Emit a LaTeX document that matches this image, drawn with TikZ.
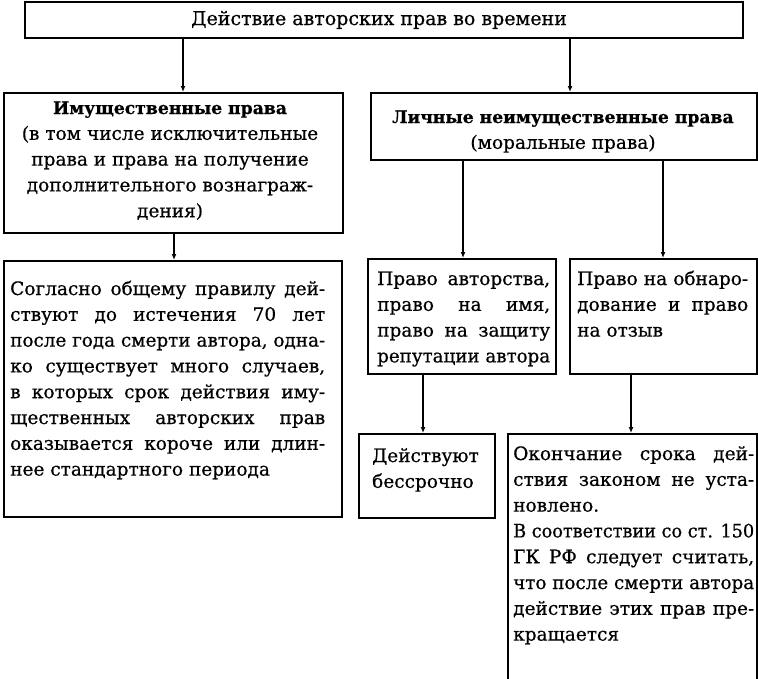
\documentclass[tikz,border=0pt]{standalone}
\usepackage{fontspec}
\usepackage{graphicx}
\setmainfont{DejaVu Serif}[RawFeature={embolden=0.6}]
\usetikzlibrary{arrows.meta}
\newsavebox\linebx
\newcommand{\jl}[1]{\sbox\linebx{#1}%
  \ifdim\wd\linebx>\linewidth
    \resizebox{\linewidth}{\height}{\usebox\linebx}%
  \else
    \makebox[\linewidth][s]{#1}%
  \fi\par}
\newcommand{\nl}[1]{\makebox[\linewidth][l]{#1}\par}
\newcommand{\cl}[1]{\makebox[\linewidth][c]{#1}\par}
\tikzset{
  box/.style={draw=black, line width=1.6pt, fill=white, anchor=north west, inner sep=0pt},
  txt/.style={inner sep=0pt, anchor=base west},
  ctxt/.style={inner sep=0pt, anchor=base},
  arr/.style={line width=1.3pt, -{Latex[length=6pt,width=5pt]}},
  body/.style={font=\fontsize{18.5}{25.8}\selectfont},
  bld/.style={font=\fontsize{17.2}{25.8}\selectfont\bfseries}
}
\begin{document}
\begin{tikzpicture}[x=1pt,y=-1pt,body]
\useasboundingbox[fill=white] (0,0) rectangle (758,678);

% boxes
\node[box, minimum width=718pt, minimum height=36pt] (T) at (24,1) {};
\node[box, minimum width=339pt, minimum height=140pt] (L1) at (3,92) {};
\node[box, minimum width=386pt, minimum height=67pt] (R1) at (370,92) {};
\node[box, minimum width=338pt, minimum height=256pt] (L2) at (3,260) {};
\node[box, minimum width=188pt, minimum height=115pt] (A) at (367,258) {};
\node[box, minimum width=187pt, minimum height=115pt] (B) at (569,258) {};
\node[box, minimum width=136pt, minimum height=84pt] (C) at (358,433) {};
\node[box, minimum width=249pt, minimum height=260pt] (D) at (507,433) {};

% texts
\node[ctxt, font=\fontsize{19}{25.8}\selectfont] (Tt) at (379,25) {Действие авторских прав во времени};
\node[ctxt, bld] (L1h) at (170,114) {Имущественные права};
\node[ctxt] (L1t) at (170,139.8) {\parbox[t]{330pt}{%
  \cl{(в том числе исключительные}
  \cl{права и права на получение}
  \cl{дополнительного вознаграж-}
  \cl{дения)}}};
\node[ctxt, bld] (R1h) at (563,123) {Личные неимущественные права};
\node[ctxt] (R1t) at (563,148.8) {(моральные права)};
\node[txt] (L2t) at (10,295) {\parbox[t]{315pt}{%
  \jl{Согласно общему правилу дей-}
  \jl{ствуют до истечения 70 лет}
  \jl{после года смерти автора, одна-}
  \jl{ко существует много случаев,}
  \jl{в которых срок действия иму-}
  \jl{щественных авторских прав}
  \jl{оказывается короче или длин-}
  \nl{нее стандартного периода}}};
\node[txt] (At) at (377,285) {\parbox[t]{173pt}{%
  \jl{Право авторства,}
  \jl{право на имя,}
  \jl{право на защиту}
  \jl{репутации автора}}};
\node[txt] (Bt) at (577,285) {\parbox[t]{171pt}{%
  \jl{Право на обнаро-}
  \jl{дование и право}
  \nl{на отзыв}}};
\node[txt] (Ct) at (372,462) {\parbox[t]{115pt}{%
  \nl{Действуют}
  \nl{бессрочно}}};
\node[txt] (Dt) at (513,460) {\parbox[t]{241pt}{%
  \jl{Окончание срока дей-}
  \jl{ствия законом не уста-}
  \nl{новлено.}
  \jl{В соответствии со ст. 150}
  \jl{ГК РФ следует считать,}
  \jl{что после смерти автора}
  \jl{действие этих прав пре-}
  \nl{кращается}}};

% arrow x positions
\coordinate (x1) at (183,0);
\coordinate (x2) at (570,0);
\coordinate (x3) at (174,0);
\coordinate (x4) at (463,0);
\coordinate (x5) at (663,0);
\coordinate (x6) at (423,0);
\coordinate (x7) at (631,0);

\draw[arr] (T.south -| x1) -- (L1.north -| x1);
\draw[arr] (T.south -| x2) -- (R1.north -| x2);
\draw[arr] (L1.south -| x3) -- (L2.north -| x3);
\draw[arr] (R1.south -| x4) -- (A.north -| x4);
\draw[arr] (R1.south -| x5) -- (B.north -| x5);
\draw[arr] (A.south -| x6) -- (C.north -| x6);
\draw[arr] (B.south -| x7) -- (D.north -| x7);
\end{tikzpicture}
\end{document}
